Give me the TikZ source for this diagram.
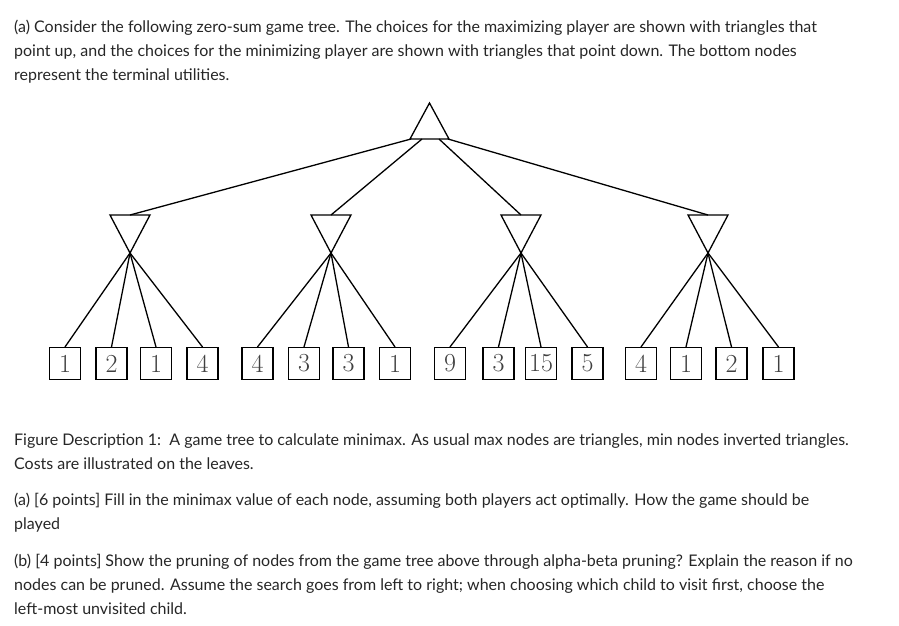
\documentclass[tikz,border=0pt]{standalone}
\usepackage{fontspec}
\newfontfamily\lato{Lato}
\begin{document}
\begin{tikzpicture}[x=1pt,y=-1pt,
  txt/.style={anchor=base west,inner sep=0pt,font=\lato\fontsize{16}{19}\selectfont,text=black!85},
  leaf/.style={draw,line width=1.1pt,minimum width=31pt,minimum height=32pt,inner sep=0pt,font=\fontsize{26}{26}\selectfont,text=black!75},
  edge/.style={line width=1.3pt}]
\useasboundingbox (0,0) rectangle (899,625);
\node[txt] (t1) at (14,32) {(a) Consider the following zero-sum game tree. The choices for the maximizing player are shown with triangles that};
\node[txt] (t2) at (14,56) {point up, and the choices for the minimizing player are shown with triangles that point down. The bottom nodes};
\node[txt] (t3) at (14,80) {represent the terminal utilities.};
\node[txt] (t4) at (14,445) {Figure Description 1:\ \ A game tree to calculate minimax. As usual max nodes are triangles, min nodes inverted triangles.};
\node[txt] (t5) at (14,469) {Costs are illustrated on the leaves.};
\node[txt] (t6) at (14,505) {(a) [6 points] Fill in the minimax value of each node, assuming both players act optimally. How the game should be};
\node[txt] (t7) at (14,529) {played};
\node[txt] (t8) at (14,566) {(b) [4 points] Show the pruning of nodes from the game tree above through alpha-beta pruning? Explain the reason if no};
\node[txt] (t9) at (14,590) {nodes can be pruned. Assume the search goes from left to right; when choosing which child to visit first, choose the};
\node[txt] (t10) at (14,614) {left-most unvisited child.};
% root
\coordinate (r) at (429.5,103);
\coordinate (rl) at (410,139);
\coordinate (rr) at (449,139);
\draw[edge] (r) -- (rl) -- (rr) -- cycle;
\coordinate (rb1) at (411,139);
\coordinate (rb2) at (422,139);
\coordinate (rb3) at (439,139);
\coordinate (rb4) at (448,139);
% min nodes
\foreach \i/\x in {1/130,2/331,3/521,4/708}{
  \coordinate (m\i) at (\x,215);
  \coordinate (a\i) at (\x,253);
  \draw[edge] (\x-20,215) -- (\x+20,215) -- (a\i) -- cycle;
  \draw[edge] (rb\i) -- (m\i);
}
% leaves
\foreach \j/\x/\v/\p in {1/65/1/1,2/111.5/2/1,3/156/1/1,4/202.5/4/1,
  5/257.5/4/2,6/304/3/2,7/348.5/3/2,8/395/1/2,
  9/450/9/3,10/498.5/3/3,11/541/15/3,12/587.5/5/3,
  13/641/4/4,14/686/1/4,15/731.5/2/4,16/778.5/1/4}{
  \node[leaf] (l\j) at (\x,363.5) {\v};
  \draw[edge] (a\p) -- (l\j.north);
}
\end{tikzpicture}
\end{document}
